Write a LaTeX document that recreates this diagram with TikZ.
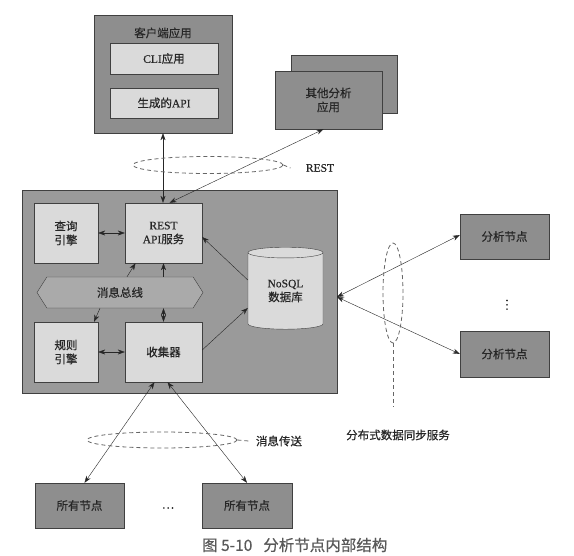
\documentclass[tikz,border=0pt]{standalone}
\usepackage{fontspec}
\setmainfont{Noto Sans CJK SC}[FakeBold=0.5]
\newfontfamily\lat{Liberation Serif}[FakeBold=0.4]
\usetikzlibrary{shapes.geometric,shapes.symbols,arrows.meta,positioning}
\definecolor{dkfill}{RGB}{142,142,142}
\definecolor{midfill}{RGB}{154,154,154}
\definecolor{busfill}{RGB}{170,170,170}
\definecolor{ltfill}{RGB}{218,218,218}
\begin{document}
\begin{tikzpicture}[x=1pt,y=-1pt,>={Stealth[length=7pt,width=5pt]},
		font=\fontsize{11.5}{14}\selectfont,text=black!85,
		box/.style={draw=black!75,fill=dkfill,align=center,inner sep=0pt},
		inbox/.style={draw=black!75,fill=ltfill,align=center,inner sep=0pt},
		link/.style={black!85},
		ring/.style={draw=black!60,thick,dash pattern=on 4pt off 3pt}]
	\useasboundingbox[fill=white] (0,0) rectangle (574,556);
	% client side
	\node[box,minimum width=138,minimum height=118] (client) at (163,74) {};
	\node[anchor=north] (clienttitle) at (163,24) {客户端应用};
	\node[inbox,minimum width=108,minimum height=31] (cli) at (164,58.5) {{\lat CLI}应用};
	\node[inbox,minimum width=108,minimum height=30] (api) at (164,103) {生成的{\lat API}};
	\node[box,minimum width=106,minimum height=58] (othersback) at (344,84) {};
	\node[box,minimum width=107,minimum height=58] (others) at (328.5,100) {其他分析\\应用};
	% analysis node
	\node[box,fill=midfill,minimum width=315,minimum height=203] (main) at (179.5,291.5) {};
	\node[inbox,minimum width=64,minimum height=60] (query) at (66,233) {查询\\引擎};
	\node[inbox,minimum width=77,minimum height=60] (rest) at (163.5,233) {\lat REST\\{\lat API}服务};
	\node[box,fill=busfill,signal,signal to=west and east,signal pointer angle=115,
		minimum width=166,minimum height=31] (bus) at (120,292.5) {消息总线};
	\node[inbox,minimum width=64,minimum height=60] (rules) at (66,352) {规则\\引擎};
	\node[inbox,minimum width=77,minimum height=60] (collector) at (163.5,352) {收集器};
	\node[inbox,cylinder,shape border rotate=90,aspect=0.3,
		minimum width=75,minimum height=82] (nosql) at (285.5,291) {{\lat NoSQL}\\数据库};
	% other nodes
	\node[box,minimum width=89,minimum height=45] (ana1) at (504.5,236.5) {分析节点};
	\node[box,minimum width=89,minimum height=46] (ana2) at (504.5,354) {分析节点};
	\node[rotate=90] (vdots) at (507,305) {\ldots};
	\node[box,minimum width=89,minimum height=45] (all1) at (79.5,505.5) {所有节点};
	\node[box,minimum width=90,minimum height=45] (all2) at (247,505.5) {所有节点};
	\node (hdots) at (168,508) {\ldots};
	% connectors
	\draw[link,<->] (client.south) -- (client.south |- rest.north);
	\draw[link,<->] ([xshift=6pt]rest.north) -- ([xshift=-5pt]others.south);
	\draw[link,<->] (query) -- (rest);
	\draw[link,->] ([xshift=7pt]bus.north) -- ([xshift=-28pt]rest.south);
	\draw[link,->] (rest.south |- bus.north) -- (rest.south);
	\draw[link,->] ([xshift=-20pt]bus.south) -- ([xshift=28pt]rules.north);
	\draw[link,<->] (collector.north |- bus.south) -- (collector.north);
	\draw[link,<->] (rules) -- (collector);
	\draw[link,->] ([yshift=11pt]nosql.west) -- ([yshift=-4pt]rest.east);
	\draw[link,->] ([yshift=2pt]collector.east) -- ([yshift=-17pt]nosql.west);
	\coordinate (sync) at (337,297);
	\draw[link,<->] (sync) -- ([yshift=1.5pt]ana1.west);
	\draw[link,<->] (sync) -- (ana2.west);
	\draw[link,<->] ([xshift=-9pt]collector.south) -- ([xshift=5pt]all1.north);
	\draw[link,<->] ([xshift=4pt]collector.south) -- (all2.north);
	% dashed rings and labels
	\node[ring,ellipse,minimum width=150,minimum height=17,inner sep=0pt] (restring) at (208,165) {};
	\node (restlbl) at (320,168) {\lat REST};
	\draw[ring] (restring.east) -- ([xshift=-12pt]restlbl.west);
	\node[ring,ellipse,minimum width=150,minimum height=16,inner sep=0pt] (msgring) at (162,440) {};
	\node (msglbl) at (279,441) {消息传送};
	\draw[ring] (msgring.east) -- ([xshift=-4pt]msglbl.west);
	\node[ring,ellipse,minimum width=20,minimum height=100,inner sep=0pt] (syncring) at (393,293) {};
	\node (synclbl) at (398,435) {分布式数据同步服务};
	\draw[ring] (syncring.south) -- (393,407);
	\node[anchor=west,inner sep=0pt,text=black!65,font=\fontsize{15.5}{18}\selectfont] (caption) at (202,545) {图 5-10\hspace{11pt}分析节点内部结构};
\end{tikzpicture}
\end{document}
